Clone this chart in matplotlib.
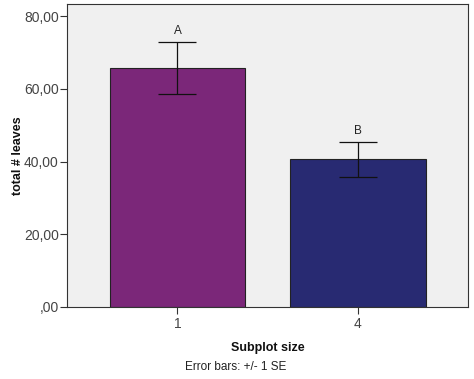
import matplotlib
matplotlib.use("Agg")
import matplotlib.pyplot as plt
from matplotlib.ticker import FuncFormatter

categories = ["1", "4"]
means = [65.8, 40.6]
err_low = [58.7, 35.8]
err_high = [73.0, 45.5]
letters = ["A", "B"]
colors = ["#7B2779", "#282A72"]
yticks = [0, 20, 40, 60, 80]

plt.rcParams['font.family'] = ['Liberation Sans', 'DejaVu Sans']

fig = plt.figure(figsize=(4.74, 3.79), dpi=100)
ax = fig.add_axes([0.1414, 0.19, 0.8456, 0.799])
ax.set_facecolor("#F0F0F0")

x = list(range(len(categories)))
yerr = [[m - l for m, l in zip(means, err_low)], [h - m for m, h in zip(means, err_high)]]
ax.bar(x, means, width=0.75, color=colors, edgecolor="#222222", linewidth=0.8, zorder=2)
ax.errorbar(x, means, yerr=yerr, fmt="none", ecolor="#111111", elinewidth=0.9,
            capsize=14, capthick=0.9, zorder=3)
for xi, h, t in zip(x, err_high, letters):
    ax.text(xi, h + 1.2, t, ha="center", va="bottom", fontsize=8.5, color="#222222")

ax.set_xlim(-0.612, 1.609)
ax.set_ylim(0, 83.3)
ax.set_xticks(x)
ax.set_xticklabels(categories)
ax.set_yticks(yticks)
ax.yaxis.set_major_formatter(FuncFormatter(lambda v, p: (",00" if v == 0 else f"{v:.2f}".replace(".", ","))))
ax.tick_params(axis="both", direction="out", length=5, width=0.8, colors="#333333",
               labelsize=10, labelcolor="#444444")
ax.tick_params(axis="y", pad=1)
ax.tick_params(axis="x", pad=2)
for s in ax.spines.values():
    s.set_color("#333333")
    s.set_linewidth(0.8)

ax.set_xlabel("Subplot size", fontsize=9, fontweight="bold", color="#111111")
ax.xaxis.set_label_coords((268 - 67) / 401, -(342 - 307) / 303)
ax.set_ylabel("total # leaves", fontsize=9, fontweight="bold", color="#111111")
ax.yaxis.set_label_coords(-(67 - 24) / 401, 0.5)
fig.text(236 / 474, 1 - 367 / 379, "Error bars: +/- 1 SE", ha="center", va="center",
         fontsize=8.5, color="#222222")

fig.savefig("out.png", dpi=100)
